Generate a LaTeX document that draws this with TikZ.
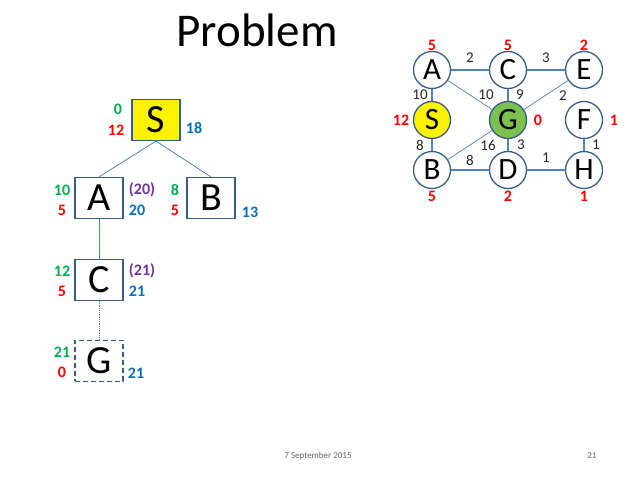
\documentclass[tikz,border=0pt]{standalone}
\usepackage{fontspec}
\setmainfont{Carlito}
\definecolor{steel}{HTML}{4F81BD}
\definecolor{boxc}{HTML}{385D8A}
\definecolor{cgr}{HTML}{00B050}
\definecolor{crd}{HTML}{FF0000}
\definecolor{cbl}{HTML}{0070C0}
\definecolor{cpu}{HTML}{7030A0}
\definecolor{gfill}{HTML}{7CC050}
\begin{document}
\begin{tikzpicture}[x=1pt,y=-1pt,
  tbox/.style={draw=boxc,line width=1.2pt,minimum width=48pt,minimum height=41pt,inner sep=0pt,font=\fontsize{40}{40}\selectfont},
  gc/.style={circle,draw=boxc,line width=1.3pt,minimum size=37pt,inner sep=0pt,font=\fontsize{31}{31}\selectfont},
  te/.style={draw=steel,line width=0.8pt},
  ge/.style={draw=steel,line width=1.8pt},
  gt/.style={draw=steel,line width=0.7pt},
  w/.style={font=\fontsize{15}{15}\selectfont,text=black!85},
  gr/.style={font=\bfseries\fontsize{16}{16}\selectfont,text=cgr},
  rd/.style={font=\bfseries\fontsize{16}{16}\selectfont,text=crd},
  bl/.style={font=\bfseries\fontsize{16}{16}\selectfont,text=cbl},
  pu/.style={font=\bfseries\fontsize{16}{16}\selectfont,text=cpu}]
\useasboundingbox (0,0) rectangle (638,478);
\node[font=\fontsize{47}{47}\selectfont] (title) at (257,30) {Problem};
\node[font=\fontsize{9}{9}\selectfont,text=black!60] (date) at (318,456) {7 September 2015};
\node[font=\fontsize{9}{9}\selectfont,text=black!60] (pg) at (592,456) {21};
% tree
\node[tbox,fill=yellow] (tS) at (156,120) {S};
\node[tbox] (tA) at (99,198) {A};
\node[tbox] (tB) at (211,198) {B};
\node[tbox] (tC) at (99,280) {C};
\node[tbox,dashed,dash pattern=on 5pt off 3pt] (tG) at (99,361) {G};
\draw[te] (tS.south) -- (tA.north);
\draw[te] (tS.south) -- (tB.north);
\draw[te] (tA) -- (tC);
\draw[te,densely dotted] (tC) -- (tG);
\node[gr] (s1) at (118,109) {0};
\node[rd] (s2) at (116,130) {12};
\node[bl] (s3) at (194,128) {18};
\node[gr] (a1) at (62,190) {10};
\node[rd] (a2) at (62,210) {5};
\node[pu] (a3) at (142,190) {(20)};
\node[bl] (a4) at (137,210) {20};
\node[gr] (b1) at (175,190) {8};
\node[rd] (b2) at (175,210) {5};
\node[bl] (b3) at (250,212) {13};
\node[gr] (c1) at (62,271) {12};
\node[rd] (c2) at (62,291) {5};
\node[pu] (c3) at (142,271) {(21)};
\node[bl] (c4) at (137,291) {21};
\node[gr] (g1) at (62,352) {21};
\node[rd] (g2) at (62,372) {0};
\node[bl] (g3) at (136,373) {21};
% graph
\node[gc] (A) at (432,70) {A};
\node[gc] (C) at (508,70) {C};
\node[gc] (E) at (584,70) {E};
\node[gc,fill=yellow] (S) at (432,120) {S};
\node[gc,fill=gfill] (G) at (508,120) {G};
\node[gc] (F) at (584,120) {F};
\node[gc] (B) at (432,170) {B};
\node[gc] (D) at (508,170) {D};
\node[gc] (H) at (584,170) {H};
\draw[ge] (A) -- (C); \draw[ge] (C) -- (E); \draw[ge] (A) -- (S);
\draw[ge] (C) -- (G); \draw[ge] (S) -- (B); \draw[ge] (G) -- (D);
\draw[ge] (B) -- (D); \draw[ge] (D) -- (H); \draw[ge] (F) -- (H);
\draw[gt] (A) -- (G); \draw[gt] (E) -- (G); \draw[gt] (B) -- (G);
\node[w] (wAC) at (470,58) {2};
\node[w] (wCE) at (546,58) {3};
\node[w] (wAS) at (420,95) {10};
\node[w] (wAG) at (486,95) {10};
\node[w] (wCG) at (520,95) {9};
\node[w] (wEG) at (563,96) {2};
\node[w] (wSB) at (420,145) {8};
\node[w] (wBG) at (488,145) {16};
\node[w] (wGD) at (521,145) {3};
\node[w] (wBD) at (470,160) {8};
\node[w] (wDH) at (546,158) {1};
\node[w] (wFH) at (596,145) {1};
\node[rd] (hA) at (432,45) {5};
\node[rd] (hC) at (508,45) {5};
\node[rd] (hE) at (584,45) {2};
\node[rd] (hS) at (401,120) {12};
\node[rd] (hG) at (538,120) {0};
\node[rd] (hF) at (614,120) {1};
\node[rd] (hB) at (432,196) {5};
\node[rd] (hD) at (508,196) {2};
\node[rd] (hH) at (584,196) {1};
\end{tikzpicture}
\end{document}
